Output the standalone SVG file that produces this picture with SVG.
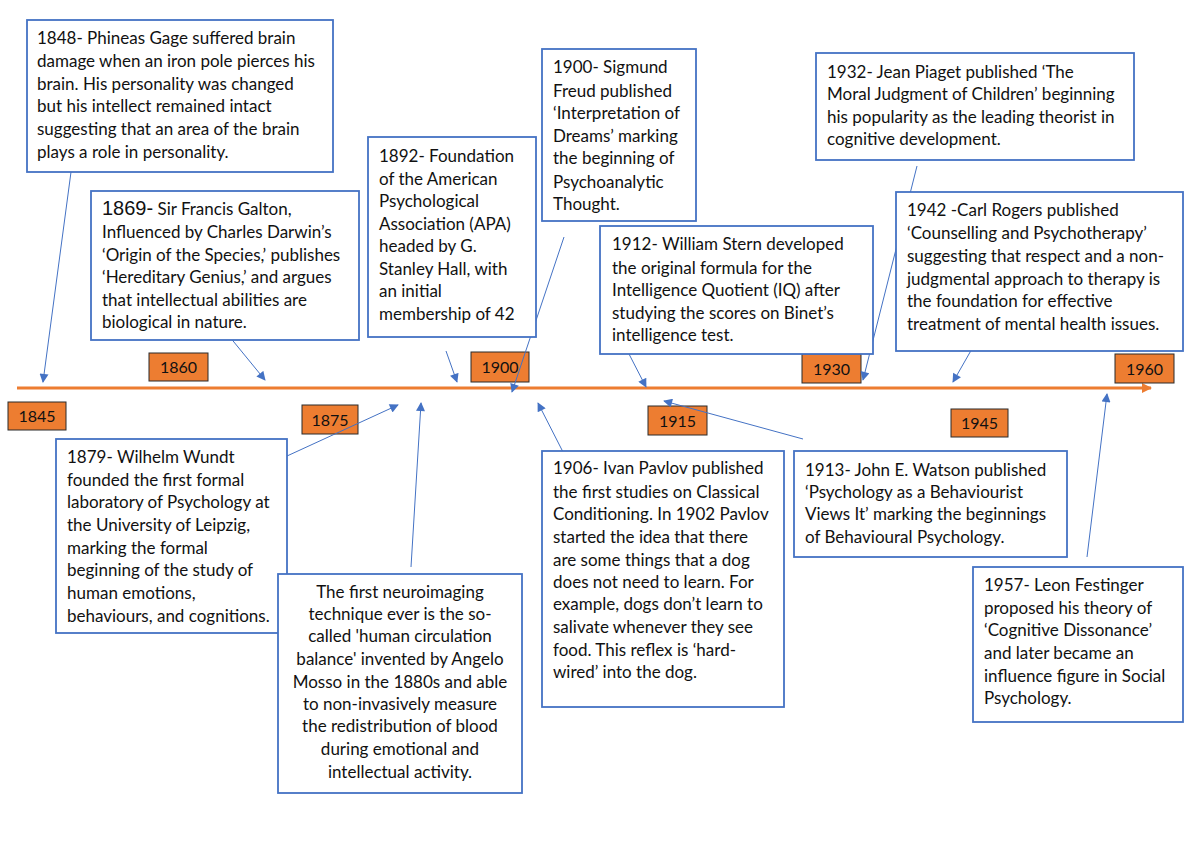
<svg xmlns="http://www.w3.org/2000/svg" width="1200" height="848" viewBox="0 0 1200 848">
<defs>
<marker id="ah" viewBox="0 0 10 10" refX="9" refY="5" markerWidth="10" markerHeight="9" markerUnits="userSpaceOnUse" orient="auto">
<path d="M0,0 L10,5 L0,10 z" fill="#4472C4"/>
</marker>
<marker id="oh" viewBox="0 0 10 10" refX="9" refY="5" markerWidth="11" markerHeight="10" markerUnits="userSpaceOnUse" orient="auto">
<path d="M0,0 L10,5 L0,10 z" fill="#ED7D31"/>
</marker>
</defs>
<style>
.box{fill:#fff;stroke:#4472C4;stroke-width:1.8}
.yr{fill:#ED7D31;stroke:#2b2b2b;stroke-width:1}
.t{font-family:Lato,"Open Sans","Liberation Sans",sans-serif;font-size:17px;fill:#111}
.c{text-anchor:middle}
.yt{font-family:Lato,"Liberation Sans",sans-serif;font-size:16px;fill:#111;text-anchor:middle}
.t .big{font-family:"Liberation Sans",Arial,sans-serif;font-size:20px}
.con{stroke:#4472C4;stroke-width:1;fill:none;marker-end:url(#ah)}
</style>
<rect width="1200" height="848" fill="#fff"/>

<g id="timeline">
<line x1="17" y1="388" x2="1151" y2="388" stroke="#ED7D31" stroke-width="3" marker-end="url(#oh)"/>
</g>

<g id="years">
<g id="y1845"><rect class="yr" x="8" y="402" width="58" height="28"/><text class="yt" x="37" y="422">1845</text></g>
<g id="y1860"><rect class="yr" x="149" y="353" width="59" height="28"/><text class="yt" x="178.5" y="373">1860</text></g>
<g id="y1875"><rect class="yr" x="302" y="405" width="56" height="29"/><text class="yt" x="330" y="426">1875</text></g>
<g id="y1900"><rect class="yr" x="471" y="352" width="58" height="30"/><text class="yt" x="500" y="373">1900</text></g>
<g id="y1915"><rect class="yr" x="648" y="406" width="59" height="29"/><text class="yt" x="677.5" y="427">1915</text></g>
<g id="y1930"><rect class="yr" x="802" y="354" width="59" height="29"/><text class="yt" x="831.5" y="375">1930</text></g>
<g id="y1945"><rect class="yr" x="951" y="409" width="57" height="28"/><text class="yt" x="979.5" y="429">1945</text></g>
<g id="y1960"><rect class="yr" x="1115" y="354" width="59" height="29"/><text class="yt" x="1144.5" y="375">1960</text></g>
</g>

<g id="connectors">
<line class="con" x1="71" y1="172" x2="43" y2="382"/>
<line class="con" x1="229" y1="336" x2="265" y2="380"/>
<line class="con" x1="446" y1="351" x2="457" y2="382"/>
<line class="con" x1="564" y1="237" x2="512" y2="392"/>
<line class="con" x1="629" y1="354" x2="646" y2="387"/>
<line class="con" x1="917" y1="166" x2="863" y2="380"/>
<line class="con" x1="977" y1="340" x2="953" y2="382"/>
<line class="con" x1="287" y1="456" x2="398" y2="405"/>
<line class="con" x1="411" y1="567" x2="421" y2="403"/>
<line class="con" x1="563" y1="452" x2="538" y2="403"/>
<line class="con" x1="803" y1="439" x2="664" y2="401"/>
<line class="con" x1="1087" y1="557" x2="1107" y2="394"/>
</g>

<g id="n1848">
<rect class="box" x="27" y="20" width="306" height="152"/>
<text class="t"><tspan x="37" y="44">1848- Phineas Gage suffered brain</tspan><tspan x="37" y="67">damage when an iron pole pierces his</tspan><tspan x="37" y="90">brain. His personality was changed</tspan><tspan x="37" y="112">but his intellect remained intact</tspan><tspan x="37" y="135">suggesting that an area of the brain</tspan><tspan x="37" y="158">plays a role in personality.</tspan></text>
</g>

<g id="n1869">
<rect class="box" x="91" y="191" width="268" height="149"/>
<text class="t"><tspan x="102" y="215" class="big">1869-</tspan><tspan> Sir Francis Galton,</tspan><tspan x="102" y="238">Influenced by Charles Darwin’s</tspan><tspan x="102" y="261">‘Origin of the Species,’ publishes</tspan><tspan x="102" y="283">‘Hereditary Genius,’ and argues</tspan><tspan x="102" y="306">that intellectual abilities are</tspan><tspan x="102" y="328">biological in nature.</tspan></text>
</g>

<g id="n1892">
<rect class="box" x="368" y="137" width="168" height="200"/>
<text class="t"><tspan x="379" y="162">1892- Foundation</tspan><tspan x="379" y="185">of the American</tspan><tspan x="379" y="207">Psychological</tspan><tspan x="379" y="230">Association (APA)</tspan><tspan x="379" y="252">headed by G.</tspan><tspan x="379" y="275">Stanley Hall, with</tspan><tspan x="379" y="297">an initial</tspan><tspan x="379" y="320">membership of 42</tspan></text>
</g>

<g id="n1900">
<rect class="box" x="542" y="49" width="154" height="172"/>
<text class="t"><tspan x="553" y="73">1900- Sigmund</tspan><tspan x="553" y="97">Freud published</tspan><tspan x="553" y="119">‘Interpretation of</tspan><tspan x="553" y="142">Dreams’ marking</tspan><tspan x="553" y="164">the beginning of</tspan><tspan x="553" y="188">Psychoanalytic</tspan><tspan x="553" y="210">Thought.</tspan></text>
</g>

<g id="n1912">
<rect class="box" x="600" y="226" width="273" height="128"/>
<text class="t"><tspan x="612" y="250">1912- William Stern developed</tspan><tspan x="612" y="274">the original formula for the</tspan><tspan x="612" y="296">Intelligence Quotient (IQ) after</tspan><tspan x="612" y="319">studying the scores on Binet’s</tspan><tspan x="612" y="341">intelligence test.</tspan></text>
</g>

<g id="n1932">
<rect class="box" x="816" y="53" width="318" height="107"/>
<text class="t"><tspan x="827" y="78">1932- Jean Piaget published ‘The</tspan><tspan x="827" y="100">Moral Judgment of Children’ beginning</tspan><tspan x="827" y="123">his popularity as the leading theorist in</tspan><tspan x="827" y="145">cognitive development.</tspan></text>
</g>

<g id="n1942">
<rect class="box" x="896" y="192" width="287" height="159"/>
<text class="t"><tspan x="907" y="216">1942 -Carl Rogers published</tspan><tspan x="907" y="239">‘Counselling and Psychotherapy’</tspan><tspan x="907" y="262">suggesting that respect and a non-</tspan><tspan x="907" y="285">judgmental approach to therapy is</tspan><tspan x="907" y="307">the foundation for effective</tspan><tspan x="907" y="330">treatment of mental health issues.</tspan></text>
</g>

<g id="n1879">
<rect class="box" x="56" y="439" width="231" height="194"/>
<text class="t"><tspan x="67" y="463">1879- Wilhelm Wundt</tspan><tspan x="67" y="486">founded the first formal</tspan><tspan x="67" y="508">laboratory of Psychology at</tspan><tspan x="67" y="531">the University of Leipzig,</tspan><tspan x="67" y="554">marking the formal</tspan><tspan x="67" y="576">beginning of the study of</tspan><tspan x="67" y="599">human emotions,</tspan><tspan x="67" y="622">behaviours, and cognitions.</tspan></text>
</g>

<g id="nNeuro">
<rect class="box" x="278" y="574" width="244" height="219"/>
<text class="t c"><tspan x="400" y="598">The first neuroimaging</tspan><tspan x="400" y="620">technique ever is the so-</tspan><tspan x="400" y="642">called 'human circulation</tspan><tspan x="400" y="665">balance' invented by Angelo</tspan><tspan x="400" y="688">Mosso in the 1880s and able</tspan><tspan x="400" y="710">to non-invasively measure</tspan><tspan x="400" y="732">the redistribution of blood</tspan><tspan x="400" y="755">during emotional and</tspan><tspan x="400" y="778">intellectual activity.</tspan></text>
</g>

<g id="n1906">
<rect class="box" x="542" y="451" width="242" height="256"/>
<text class="t"><tspan x="553" y="474">1906- Ivan Pavlov published</tspan><tspan x="553" y="498">the first studies on Classical</tspan><tspan x="553" y="520">Conditioning. In 1902 Pavlov</tspan><tspan x="553" y="543">started the idea that there</tspan><tspan x="553" y="566">are some things that a dog</tspan><tspan x="553" y="588">does not need to learn. For</tspan><tspan x="553" y="610">example, dogs don’t learn to</tspan><tspan x="553" y="633">salivate whenever they see</tspan><tspan x="553" y="656">food. This reflex is ‘hard-</tspan><tspan x="553" y="678">wired’ into the dog.</tspan></text>
</g>

<g id="n1913">
<rect class="box" x="794" y="451" width="273" height="106"/>
<text class="t"><tspan x="805" y="476">1913- John E. Watson published</tspan><tspan x="805" y="498">‘Psychology as a Behaviourist</tspan><tspan x="805" y="520">Views It’ marking the beginnings</tspan><tspan x="805" y="543">of Behavioural Psychology.</tspan></text>
</g>

<g id="n1957">
<rect class="box" x="973" y="567" width="210" height="155"/>
<text class="t"><tspan x="984" y="591">1957- Leon Festinger</tspan><tspan x="984" y="614">proposed his theory of</tspan><tspan x="984" y="636">‘Cognitive Dissonance’</tspan><tspan x="984" y="659">and later became an</tspan><tspan x="984" y="682">influence figure in Social</tspan><tspan x="984" y="704">Psychology.</tspan></text>
</g>
</svg>
